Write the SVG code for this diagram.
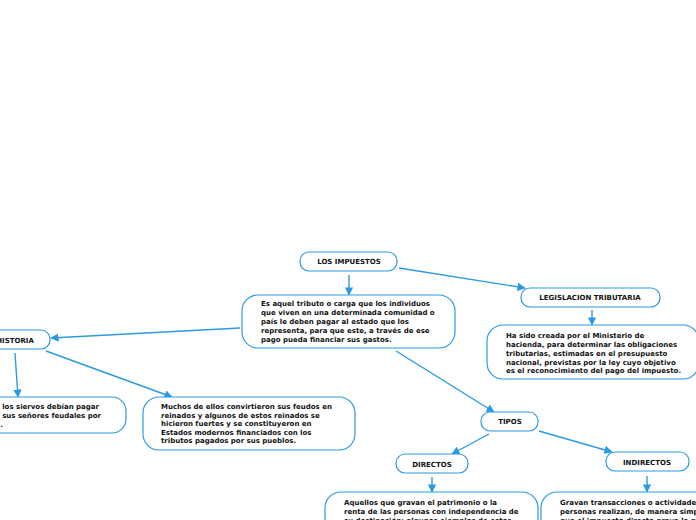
<svg xmlns="http://www.w3.org/2000/svg" width="696" height="520" viewBox="0 0 696 520">
<defs>
<style>
.n{fill:#fff;stroke:#2a9be0;stroke-width:1.2}
text{font-family:"DejaVu Sans",Verdana,sans-serif;font-weight:bold;font-size:7px;fill:#111}
.c{text-anchor:middle}
.l{stroke:#2a9be0;stroke-width:1.4;fill:none;marker-end:url(#a)}
</style>
<marker id="a" viewBox="0 0 10 10" refX="9" refY="5" markerWidth="6" markerHeight="6" orient="auto"><path d="M0,0L10,5L0,10z" fill="#2a9be0"/></marker>
</defs>
<rect width="696" height="520" fill="#fff"/>
<g id="connectors">
<line class="l" x1="349" y1="275" x2="349" y2="295"/>
<line class="l" x1="399" y1="268" x2="525" y2="288"/>
<line class="l" x1="240" y1="328" x2="51" y2="338"/>
<line class="l" x1="396" y1="351" x2="494" y2="412"/>
<line class="l" x1="15" y1="353" x2="18" y2="397"/>
<line class="l" x1="46" y1="351" x2="172" y2="397"/>
<line class="l" x1="592" y1="310" x2="592" y2="325"/>
<line class="l" x1="489" y1="434" x2="452" y2="454"/>
<line class="l" x1="539" y1="431" x2="612" y2="452"/>
<line class="l" x1="432" y1="477" x2="432" y2="492"/>
<line class="l" x1="647" y1="476" x2="647" y2="492"/>
</g>
<g id="impuestos"><rect class="n" x="300" y="252" width="97" height="19" rx="9"/><text class="c" x="349" y="264">LOS IMPUESTOS</text></g>
<g id="definicion"><rect class="n" x="242" y="295" width="213" height="53" rx="16"/>
<text x="261" y="306">Es aquel tributo o carga que los individuos</text>
<text x="261" y="315">que viven en una determinada comunidad o</text>
<text x="261" y="324">país le deben pagar al estado que los</text>
<text x="261" y="333">representa, para que este, a través de ese</text>
<text x="261" y="342">pago pueda financiar sus gastos.</text></g>
<g id="historia"><rect class="n" x="-30" y="330" width="80" height="19" rx="9"/><text class="c" x="15" y="343">HISTORIA</text></g>
<g id="siervos"><rect class="n" x="-70" y="397" width="196" height="36" rx="14"/>
<text x="99" y="409" text-anchor="end">En la Edad Media los siervos debían pagar</text>
<text x="101" y="418" text-anchor="end">tributos a sus señores feudales por</text>
<text x="3" y="427" text-anchor="end">protección.</text></g>
<g id="muchos"><rect class="n" x="143" y="397" width="212" height="53" rx="16"/>
<text x="161" y="409">Muchos de ellos convirtieron sus feudos en</text>
<text x="161" y="418">reinados y algunos de estos reinados se</text>
<text x="161" y="426">hicieron fuertes y se constituyeron en</text>
<text x="161" y="435">Estados modernos financiados con los</text>
<text x="161" y="443">tributos pagados por sus pueblos.</text></g>
<g id="legislacion"><rect class="n" x="521" y="288" width="139" height="19" rx="9"/><text class="c" x="590" y="300">LEGISLACION TRIBUTARIA</text></g>
<g id="hasido"><rect class="n" x="487" y="325" width="212" height="54" rx="16"/>
<text x="506" y="338">Ha sido creada por el Ministerio de</text>
<text x="506" y="347">hacienda, para determinar las obligaciones</text>
<text x="506" y="356">tributarias, estimadas en el presupuesto</text>
<text x="506" y="365">nacional, previstas por la ley cuyo objetivo</text>
<text x="506" y="373">es el reconocimiento del pago del impuesto.</text></g>
<g id="tipos"><rect class="n" x="481" y="412" width="57" height="19" rx="9"/><text class="c" x="510" y="424">TIPOS</text></g>
<g id="directos"><rect class="n" x="396" y="454" width="72" height="19" rx="9"/><text class="c" x="432" y="467">DIRECTOS</text></g>
<g id="indirectos"><rect class="n" x="606" y="452" width="83" height="19" rx="9"/><text class="c" x="647" y="465">INDIRECTOS</text></g>
<g id="directos-desc"><rect class="n" x="325" y="492" width="213" height="50" rx="16"/>
<text x="344" y="505">Aquellos que gravan el patrimonio o la</text>
<text x="344" y="514">renta de las personas con independencia de</text>
<text x="344" y="523">su destinación; algunos ejemplos de estos</text></g>
<g id="indirectos-desc"><rect class="n" x="541" y="492" width="200" height="50" rx="16"/>
<text x="560" y="505">Gravan transacciones o actividades que las</text>
<text x="560" y="514">personas realizan, de manera simple,</text>
<text x="560" y="523">que el impuesto directo grava lo que</text></g>
</svg>
